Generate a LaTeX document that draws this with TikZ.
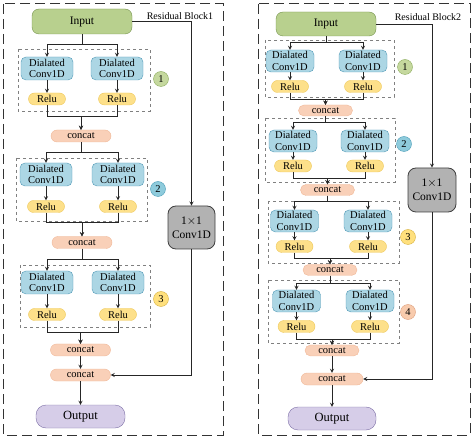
\documentclass[tikz,border=0pt]{standalone}
\usepackage{fontspec}
\setmainfont{Liberation Serif}
\usepackage{xcolor}
\usetikzlibrary{shapes.geometric, arrows, positioning}

\definecolor{inpfill}{RGB}{184,208,142}
\definecolor{inpline}{RGB}{118,148,78}
\definecolor{dcfill}{RGB}{172,214,228}
\definecolor{dcline}{RGB}{80,152,182}
\definecolor{relufill}{RGB}{253,224,138}
\definecolor{reluline}{RGB}{238,200,90}
\definecolor{catfill}{RGB}{249,208,184}
\definecolor{catline}{RGB}{240,184,152}
\definecolor{outfill}{RGB}{214,205,232}
\definecolor{outline}{RGB}{124,110,166}
\definecolor{gfill}{RGB}{197,216,158}
\definecolor{gline}{RGB}{140,172,92}
\definecolor{bfill}{RGB}{142,203,220}
\definecolor{bline}{RGB}{75,157,184}
\definecolor{yfill}{RGB}{255,224,125}
\definecolor{yline}{RGB}{215,178,64}
\definecolor{pfill}{RGB}{248,203,173}
\definecolor{pline}{RGB}{222,158,122}

\begin{document}
\begin{tikzpicture}[x=1pt, y=-1pt, >=stealth, font=\fontsize{10.5}{11.5}\selectfont]
\tikzstyle{inbox} = [rectangle, rounded corners=7pt, draw=inpline, fill=inpfill, minimum width=100pt, minimum height=25pt, inner sep=0pt, font=\fontsize{11.5}{12}\selectfont]
\tikzstyle{dconv} = [rectangle, rounded corners=5pt, draw=dcline, fill=dcfill, minimum width=52pt, minimum height=23pt, inner sep=0pt, align=center]
\tikzstyle{dconvb} = [dconv, minimum width=48pt, minimum height=22pt]
\tikzstyle{relu} = [rectangle, rounded corners=6pt, draw=reluline, fill=relufill, minimum width=37pt, minimum height=12pt, inner sep=0pt]
\tikzstyle{cat} = [rectangle, rounded corners=6pt, draw=catline, fill=catfill, minimum width=60pt, minimum height=12pt, inner sep=0pt]
\tikzstyle{catb} = [cat, minimum width=54pt, minimum height=11pt, rounded corners=5.5pt]
\tikzstyle{conv} = [rectangle, rounded corners=8pt, draw=black!75, line width=0.8pt, fill=gray!60, minimum width=47pt, minimum height=43pt, inner sep=0pt, align=center, font=\fontsize{11.5}{14}\selectfont]
\tikzstyle{outbox} = [rectangle, rounded corners=10pt, draw=outline, fill=outfill, minimum width=89pt, minimum height=23pt, inner sep=0pt, font=\fontsize{12.5}{13}\selectfont]
\tikzstyle{grp} = [draw=gray, dashed, line width=0.8pt]
\tikzstyle{blk} = [draw=black!80, dash pattern=on 10pt off 5pt, line width=1pt]
\tikzstyle{num} = [circle, minimum size=15pt, inner sep=0pt]
\tikzstyle{arr} = [->, draw=black!85, line width=0.8pt]

\useasboundingbox (0,0) rectangle (474,438);

% Residual Block1
\draw[blk] (3,4) rectangle (223,435);
\node[inbox] (in1) at (82,21.5) {Input};
\node[font=\fontsize{10}{11}\selectfont] (t1) at (180,16) {Residual Block1};

\node[dconv] (d11) at (47,68.5) {Dialated\\Conv1D};
\node[dconv] (d12) at (117,68.5) {Dialated\\Conv1D};
\node[relu] (r11) at (47,99) {Relu};
\node[relu] (r12) at (117,99) {Relu};
\draw[grp] (18,49) rectangle (150,111);
\node[num, fill=gfill, draw=gline] (n11) at (161,79) {1};
\node[cat] (c11) at (81,136) {concat};

\node[dconv] (d21) at (46,174.5) {Dialated\\Conv1D};
\node[dconv] (d22) at (118,174.5) {Dialated\\Conv1D};
\node[relu] (r21) at (46,206.5) {Relu};
\node[relu] (r22) at (118,206.5) {Relu};
\draw[grp] (16,158) rectangle (147,221);
\node[num, fill=bfill, draw=bline] (n12) at (158,189) {2};
\node[cat] (c12) at (82,242.5) {concat};

\node[dconv] (d31) at (47,282.5) {Dialated\\Conv1D};
\node[dconv] (d32) at (118,282.5) {Dialated\\Conv1D};
\node[relu] (r31) at (47,314.5) {Relu};
\node[relu] (r32) at (118,314.5) {Relu};
\draw[grp] (20,265) rectangle (150,327);
\node[num, fill=yfill, draw=yline] (n13) at (161,299) {3};
\node[cat] (c13) at (80.5,350) {concat};
\node[cat] (c14) at (80.5,375) {concat};
\node[outbox] (out1) at (80.5,416.5) {Output};
\node[conv] (k1) at (191.5,227.5) {1$\times$1\\Conv1D};

\draw[arr] (in1.south) -- ++(0,10) -| (d11.north);
\draw[arr] (in1.south) -- ++(0,10) -| (d12.north);
\draw[arr] (d11) -- (r11);
\draw[arr] (d12) -- (r12);
\draw[arr] (r11.south) -- ++(0,11) -| (c11.north);
\draw[arr] (r12.south) -- ++(0,11) -| (c11.north);
\draw[arr] (c11.south) -- ++(0,10) -| (d21.north);
\draw[arr] (c11.south) -- ++(0,10) -| (d22.north);
\draw[arr] (d21) -- (r21);
\draw[arr] (d22) -- (r22);
\draw[arr] (r21.south) -- ++(0,10) -| (c12.north);
\draw[arr] (r22.south) -- ++(0,10) -| (c12.north);
\draw[arr] (c12.south) -- ++(0,10.5) -| (d31.north);
\draw[arr] (c12.south) -- ++(0,10.5) -| (d32.north);
\draw[arr] (d31) -- (r31);
\draw[arr] (d32) -- (r32);
\draw[arr] (r31.south) -- ++(0,11.5) -| (c13.north);
\draw[arr] (r32.south) -- ++(0,11.5) -| (c13.north);
\draw[arr] (c13) -- (c14);
\draw[arr] (c14) -- (out1);
\draw[arr] (in1.east) -| (k1.north);
\draw[arr] (k1.south) |- (c14.east);

% Residual Block2
\draw[blk] (258,4) rectangle (470,435);
\node[inbox, minimum height=24pt] (in2) at (326,24) {Input};
\node[font=\fontsize{10}{11}\selectfont] (t2) at (428,17) {Residual Block2};

\node[dconvb] (d41) at (290,61) {Dialated\\Conv1D};
\node[dconvb] (d42) at (363,61) {Dialated\\Conv1D};
\node[relu] (r41) at (290,86.5) {Relu};
\node[relu] (r42) at (363,86.5) {Relu};
\draw[grp] (265,40) rectangle (394,97);
\node[num, fill=gfill, draw=gline] (n21) at (405,67) {1};
\node[catb] (c21) at (325.5,110.5) {concat};

\node[dconvb] (d51) at (293,141) {Dialated\\Conv1D};
\node[dconvb] (d52) at (365,141) {Dialated\\Conv1D};
\node[relu] (r51) at (293,166) {Relu};
\node[relu] (r52) at (365,166) {Relu};
\draw[grp] (265,118) rectangle (395,182);
\node[num, fill=bfill, draw=bline] (n22) at (404,144) {2};
\node[catb] (c22) at (327.5,190) {concat};

\node[dconvb] (d61) at (294.5,221) {Dialated\\Conv1D};
\node[dconvb] (d62) at (368,221) {Dialated\\Conv1D};
\node[relu] (r61) at (294.5,246.5) {Relu};
\node[relu] (r62) at (368,246.5) {Relu};
\draw[grp] (268,201) rectangle (399,263);
\node[num, fill=yfill, draw=yline] (n23) at (408,237) {3};
\node[catb] (c23) at (330,270) {concat};

\node[dconvb] (d71) at (296.5,301) {Dialated\\Conv1D};
\node[dconvb] (d72) at (370,301) {Dialated\\Conv1D};
\node[relu] (r71) at (296.5,326.5) {Relu};
\node[relu] (r72) at (370,326.5) {Relu};
\draw[grp] (268,280) rectangle (399,343);
\node[num, fill=pfill, draw=pline] (n24) at (408,312) {4};
\node[catb] (c24) at (332,350.5) {concat};
\node[cat, minimum width=62pt] (c25) at (332,379) {concat};
\node[outbox, minimum width=88pt] (out2) at (332,418.5) {Output};
\node[conv, minimum width=48pt, minimum height=44pt] (k2) at (432,190) {1$\times$1\\Conv1D};

\draw[arr] (in2.south) -- ++(0,6) -| (d41.north);
\draw[arr] (in2.south) -- ++(0,6) -| (d42.north);
\draw[arr] (d41) -- (r41);
\draw[arr] (d42) -- (r42);
\draw[arr] (r41.south) -- ++(0,7) -| (c21.north);
\draw[arr] (r42.south) -- ++(0,7) -| (c21.north);
\draw[arr] (c21.south) -- ++(0,6.5) -| (d51.north);
\draw[arr] (c21.south) -- ++(0,6.5) -| (d52.north);
\draw[arr] (d51) -- (r51);
\draw[arr] (d52) -- (r52);
\draw[arr] (r51.south) -- ++(0,6.5) -| (c22.north);
\draw[arr] (r52.south) -- ++(0,6.5) -| (c22.north);
\draw[arr] (c22.south) -- ++(0,5.5) -| (d61.north);
\draw[arr] (c22.south) -- ++(0,5.5) -| (d62.north);
\draw[arr] (d61) -- (r61);
\draw[arr] (d62) -- (r62);
\draw[arr] (r61.south) -- ++(0,6) -| (c23.north);
\draw[arr] (r62.south) -- ++(0,6) -| (c23.north);
\draw[arr] (c23.south) -- ++(0,7.5) -| (d71.north);
\draw[arr] (c23.south) -- ++(0,7.5) -| (d72.north);
\draw[arr] (d71) -- (r71);
\draw[arr] (d72) -- (r72);
\draw[arr] (r71.south) -- ++(0,7) -| (c24.north);
\draw[arr] (r72.south) -- ++(0,7) -| (c24.north);
\draw[arr] (c24) -- (c25);
\draw[arr] (c25) -- (out2);
\draw[arr] (in2.east) -| (k2.north);
\draw[arr] (k2.south) |- (c25.east);

\end{tikzpicture}
\end{document}
